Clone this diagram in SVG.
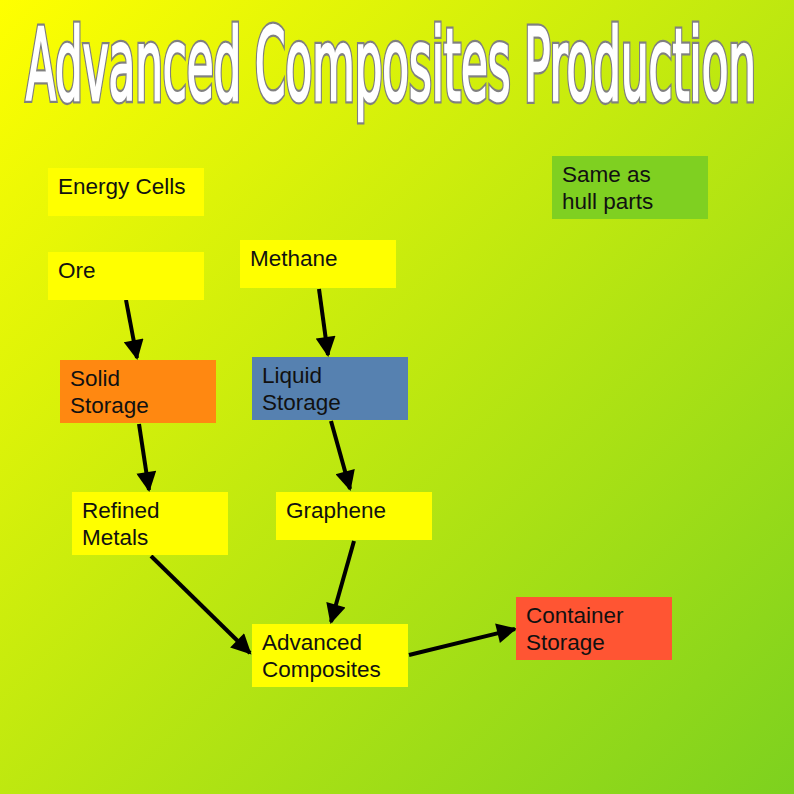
<svg xmlns="http://www.w3.org/2000/svg" width="794" height="794" viewBox="0 0 794 794">
<defs>
<linearGradient id="bg" x1="0" y1="0" x2="1" y2="1">
<stop offset="0" stop-color="#ffff00"/>
<stop offset="1" stop-color="#7dd11f"/>
</linearGradient>
<marker id="ah" viewBox="0 0 10 10" refX="9" refY="5" markerWidth="5.5" markerHeight="5" orient="auto" markerUnits="strokeWidth">
<path d="M0,0 L10,5 L0,10 z" fill="#000"/>
</marker>
<style>
.n text{font-family:"Liberation Sans",Arial,sans-serif;font-size:22.5px;fill:#111}
.y{fill:#ffff00}
#edges line{stroke:#000;stroke-width:4;marker-end:url(#ah)}
.t{font-family:"DejaVu Sans Condensed","DejaVu Sans",sans-serif;font-size:62px}
</style>
</defs>
<rect width="794" height="794" fill="url(#bg)"/>
<g id="title" transform="translate(391,100) scale(1,1.6)">
<text class="t" x="0" y="0" text-anchor="middle" textLength="730" lengthAdjust="spacingAndGlyphs" fill="#808080" stroke="#808080" stroke-width="4.5">Advanced Composites Production</text>
<text class="t" x="0" y="0" text-anchor="middle" textLength="730" lengthAdjust="spacingAndGlyphs" fill="#fff" stroke="#fff" stroke-width="1.6">Advanced Composites Production</text>
</g>
<g id="edges">
<line x1="126" y1="300" x2="137" y2="358"/>
<line x1="319" y1="289" x2="328" y2="355"/>
<line x1="139" y1="424" x2="149" y2="490"/>
<line x1="331" y1="421" x2="350" y2="489"/>
<line x1="151" y1="556" x2="250" y2="653"/>
<line x1="354" y1="541" x2="331" y2="622"/>
<line x1="409" y1="655" x2="515" y2="629"/>
</g>
<g id="energy" class="n"><rect class="y" x="48" y="168" width="156" height="48"/><text x="58" y="194">Energy Cells</text></g>
<g id="ore" class="n"><rect class="y" x="48" y="252" width="156" height="48"/><text x="58" y="278">Ore</text></g>
<g id="methane" class="n"><rect class="y" x="240" y="240" width="156" height="48"/><text x="250" y="266">Methane</text></g>
<g id="hull" class="n"><rect fill="#7fd021" x="552" y="156" width="156" height="63"/><text x="562" y="182">Same as</text><text x="562" y="209">hull parts</text></g>
<g id="solid" class="n"><rect fill="#ff8811" x="60" y="360" width="156" height="63"/><text x="70" y="386">Solid</text><text x="70" y="413">Storage</text></g>
<g id="liquid" class="n"><rect fill="#5681b0" x="252" y="357" width="156" height="63"/><text x="262" y="383">Liquid</text><text x="262" y="410">Storage</text></g>
<g id="refined" class="n"><rect class="y" x="72" y="492" width="156" height="63"/><text x="82" y="518">Refined</text><text x="82" y="545">Metals</text></g>
<g id="graphene" class="n"><rect class="y" x="276" y="492" width="156" height="48"/><text x="286" y="518">Graphene</text></g>
<g id="advanced" class="n"><rect class="y" x="252" y="624" width="156" height="63"/><text x="262" y="650">Advanced</text><text x="262" y="677">Composites</text></g>
<g id="container" class="n"><rect fill="#ff5533" x="516" y="597" width="156" height="63"/><text x="526" y="623">Container</text><text x="526" y="650">Storage</text></g>
</svg>
